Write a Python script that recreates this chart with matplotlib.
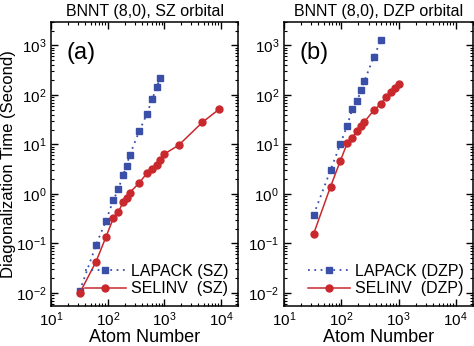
import numpy as np
import matplotlib.pyplot as plt
from matplotlib.ticker import LogLocator, NullFormatter

plt.rcParams['font.family'] = ['Liberation Sans', 'DejaVu Sans']

# panel (a): SZ orbital
sz_lapack_x = [32, 62, 93, 125, 154, 186, 215, 243, 363, 490, 613, 730, 850]
sz_lapack_y = [0.011, 0.093, 0.29, 0.74, 1.26, 2.4, 3.7, 6.0, 19, 41, 83, 142, 222]
sz_selinv_x = [32, 62, 93, 125, 154, 186, 215, 243, 363, 490, 613, 730, 850, 975, 1800, 4700, 9400]
sz_selinv_y = [0.010, 0.043, 0.136, 0.32, 0.43, 0.68, 0.82, 1.05, 1.7, 2.6, 3.2, 3.9, 4.8, 6.3, 9.7, 28, 52]

# panel (b): DZP orbital
dzp_lapack_x = [33, 65, 96, 127, 157, 191, 221, 253, 370, 500]
dzp_lapack_y = [0.38, 3.0, 10, 24, 53, 77, 124, 189, 590, 1300]
dzp_selinv_x = [33, 65, 96, 127, 157, 191, 221, 253, 370, 500, 612, 737, 875, 1015]
dzp_selinv_y = [0.157, 1.4, 4.6, 10.5, 13.7, 19, 23.4, 28.5, 49, 67, 92, 115, 138, 163]

blue = '#3a4fa8'
red = '#c9282d'

fig = plt.figure(figsize=(4.74, 3.46), dpi=100)
ax_a = fig.add_axes([0.108, 0.116, 0.394, 0.821])
ax_b = fig.add_axes([0.599, 0.116, 0.399, 0.821])

panels = [
    (ax_a, '(a)', 'BNNT (8,0), SZ orbital', 'SZ',
     sz_lapack_x, sz_lapack_y, sz_selinv_x, sz_selinv_y),
    (ax_b, '(b)', 'BNNT (8,0), DZP orbital', 'DZP',
     dzp_lapack_x, dzp_lapack_y, dzp_selinv_x, dzp_selinv_y),
]

for ax, tag, title, basis, lx, ly, sx, sy in panels:
    ax.plot(lx, ly, linestyle=(0, (1, 2.5)), color=blue, marker='s',
            markersize=4.5, linewidth=1.3, label=f'LAPACK ({basis})')
    ax.plot(sx, sy, linestyle='-', color=red, marker='o',
            markersize=5, linewidth=1.1, label=f'SELINV  ({basis})')
    ax.set_xscale('log')
    ax.set_yscale('log')
    ax.set_xlim(10, 2e4)
    ax.set_ylim(5.5e-3, 3e3)
    ax.xaxis.set_major_locator(LogLocator(base=10, numticks=10))
    ax.xaxis.set_minor_locator(LogLocator(base=10, subs=np.arange(2, 10), numticks=20))
    ax.yaxis.set_major_locator(LogLocator(base=10, numticks=10))
    ax.yaxis.set_minor_locator(LogLocator(base=10, subs=np.arange(2, 10), numticks=20))
    ax.xaxis.set_minor_formatter(NullFormatter())
    ax.yaxis.set_minor_formatter(NullFormatter())
    ax.tick_params(which='both', direction='in', top=True, right=True, labelsize=11)
    ax.tick_params(which='major', length=5, width=1)
    ax.tick_params(which='minor', length=2.5, width=0.8)
    for sp in ax.spines.values():
        sp.set_linewidth(1.1)
    ax.set_xlabel('Atom Number', fontsize=13, labelpad=0)
    ax.set_title(title, fontsize=11.5, pad=4)
    ax.text(0.08, 0.93, tag, transform=ax.transAxes, fontsize=17, va='top')
    ax.legend(loc='lower right', frameon=False, fontsize=11.5, handlelength=2.6,
              handletextpad=0.3, borderaxespad=0.2, labelspacing=0.15)

ax_a.set_ylabel('Diagonalization Time (Second)', fontsize=12)
ax_a.yaxis.set_label_coords(-0.19, 0.5)

fig.savefig('out.png', dpi=100)
